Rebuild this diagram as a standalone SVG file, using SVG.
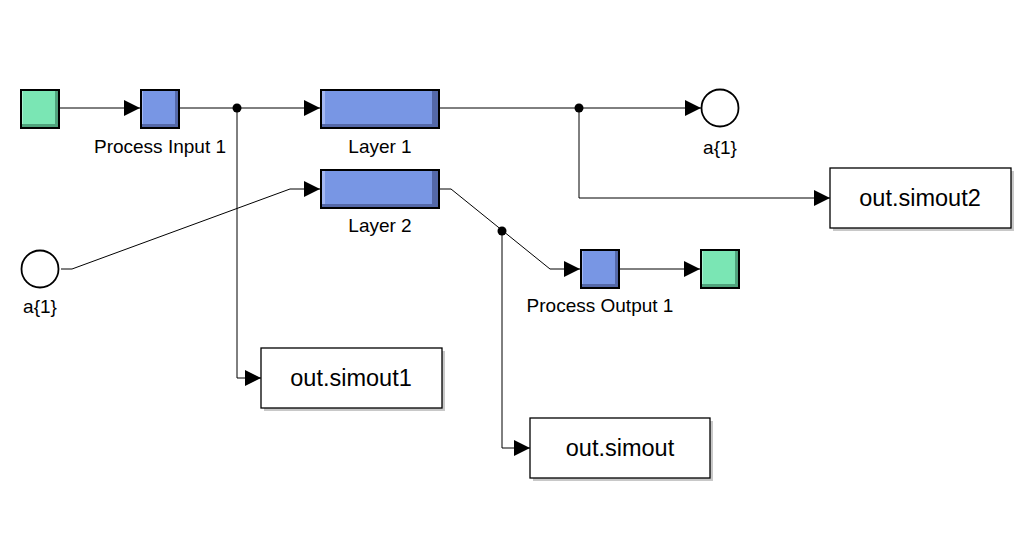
<svg xmlns="http://www.w3.org/2000/svg" width="1024" height="545" viewBox="0 0 1024 545">
<style>
.lbl{font-family:"Liberation Sans",Arial,sans-serif;font-size:19px;fill:#000;text-anchor:middle}
.big{font-family:"Liberation Sans",Arial,sans-serif;font-size:23.5px;fill:#000;text-anchor:middle}
.wire{fill:none;stroke:#000;stroke-width:1}
.blue{fill:#7896e4}
.green{fill:#7ae6b4}
.frame{fill:none;stroke:#000;stroke-width:2}
.hiB{fill:#a3b7f2}
.loB{fill:#5468a8}
.hiG{fill:#a5f0cf}
.loG{fill:#4fa27c}
.shadow{fill:#c8c8c8}
.sink{fill:#fff;stroke:#000;stroke-width:1.3}
.port{fill:#fff;stroke:#000;stroke-width:1.8}
</style>
<defs>
<marker id="arr" markerUnits="userSpaceOnUse" markerWidth="16" markerHeight="16" refX="16" refY="8" orient="auto">
<path d="M0,0 L16,8 L0,16 Z" fill="#000"/>
</marker>
</defs>
<rect width="1024" height="545" fill="#fff"/>

<g id="connectors">
<path class="wire" d="M59,108 H140" marker-end="url(#arr)"/>
<path class="wire" d="M179,108 H320" marker-end="url(#arr)"/>
<path class="wire" d="M237,108 V378 H261" marker-end="url(#arr)"/>
<path class="wire" d="M439,108 H701" marker-end="url(#arr)"/>
<path class="wire" d="M579,108 V198 H830" marker-end="url(#arr)"/>
<path class="wire" d="M61,269 H72 L290,189 H320" marker-end="url(#arr)"/>
<path class="wire" d="M439,189 H451 L550,269 H580" marker-end="url(#arr)"/>
<path class="wire" d="M502,231 V448 H530" marker-end="url(#arr)"/>
<path class="wire" d="M619,269 H700" marker-end="url(#arr)"/>
<circle cx="237" cy="108" r="4.5" fill="#000"/>
<circle cx="579" cy="108" r="4.5" fill="#000"/>
<circle cx="502" cy="231" r="4.5" fill="#000"/>
</g>

<g id="source">
<rect class="green" x="21" y="90" width="38" height="38"/>
<rect class="hiG" x="21" y="90" width="2" height="38"/>
<rect class="loG" x="55" y="90" width="4" height="38"/>
<rect class="loG" x="21" y="124" width="38" height="4"/>
<rect class="frame" x="21" y="90" width="38" height="38"/>
</g>

<g id="process-input-1">
<rect class="blue" x="141" y="90" width="38" height="38"/>
<rect class="hiB" x="141" y="90" width="2" height="38"/>
<rect class="loB" x="175" y="90" width="4" height="38"/>
<rect class="loB" x="141" y="124" width="38" height="4"/>
<rect class="frame" x="141" y="90" width="38" height="38"/>
<text class="lbl" x="160" y="153">Process Input 1</text>
</g>

<g id="layer-1">
<rect class="blue" x="321" y="90" width="118" height="38"/>
<rect class="hiB" x="321" y="90" width="4" height="38"/>
<rect class="loB" x="432" y="90" width="7" height="38"/>
<rect class="loB" x="321" y="124" width="118" height="4"/>
<rect class="frame" x="321" y="90" width="118" height="38"/>
<text class="lbl" x="380" y="153">Layer 1</text>
</g>

<g id="layer-2">
<rect class="blue" x="321" y="170" width="118" height="38"/>
<rect class="hiB" x="321" y="170" width="4" height="38"/>
<rect class="loB" x="432" y="170" width="7" height="38"/>
<rect class="loB" x="321" y="204" width="118" height="4"/>
<rect class="frame" x="321" y="170" width="118" height="38"/>
<text class="lbl" x="380" y="232">Layer 2</text>
</g>

<g id="out-port-a1">
<circle class="port" cx="720" cy="108" r="18.5"/>
<text class="lbl" x="720" y="154">a{1}</text>
</g>

<g id="in-port-a1">
<circle class="port" cx="40" cy="269" r="18.5"/>
<text class="lbl" x="40" y="313">a{1}</text>
</g>

<g id="process-output-1">
<rect class="blue" x="581" y="250" width="38" height="38"/>
<rect class="hiB" x="581" y="250" width="2" height="38"/>
<rect class="loB" x="615" y="250" width="4" height="38"/>
<rect class="loB" x="581" y="284" width="38" height="4"/>
<rect class="frame" x="581" y="250" width="38" height="38"/>
<text class="lbl" x="600" y="312">Process Output 1</text>
</g>

<g id="sink">
<rect class="green" x="701" y="250" width="38" height="38"/>
<rect class="hiG" x="701" y="250" width="2" height="38"/>
<rect class="loG" x="735" y="250" width="4" height="38"/>
<rect class="loG" x="701" y="284" width="38" height="4"/>
<rect class="frame" x="701" y="250" width="38" height="38"/>
</g>

<g id="out-simout2">
<rect class="shadow" x="833" y="171" width="181" height="60"/>
<rect class="sink" x="830" y="168" width="181" height="60"/>
<text class="big" x="920" y="206">out.simout2</text>
</g>

<g id="out-simout1">
<rect class="shadow" x="264" y="351" width="181" height="60"/>
<rect class="sink" x="261" y="348" width="181" height="60"/>
<text class="big" x="351" y="386">out.simout1</text>
</g>

<g id="out-simout">
<rect class="shadow" x="533" y="421" width="180" height="60"/>
<rect class="sink" x="530" y="418" width="180" height="60"/>
<text class="big" x="620" y="456">out.simout</text>
</g>
</svg>
